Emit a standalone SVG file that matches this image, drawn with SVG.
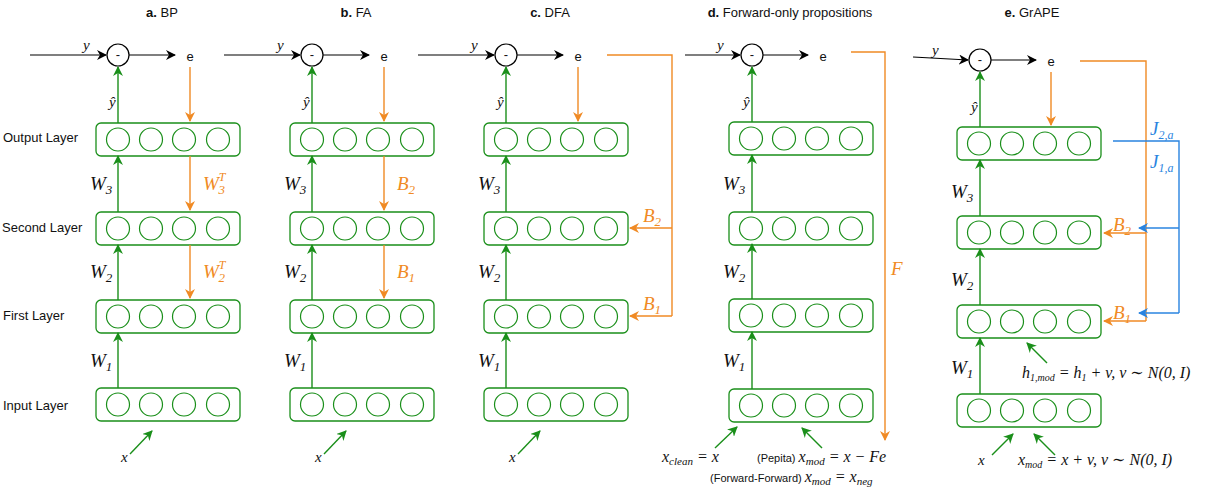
<svg xmlns="http://www.w3.org/2000/svg" width="1211" height="491" viewBox="0 0 1211 491">
<style>
.box{fill:#fff;stroke:#1a8f1a;stroke-width:1.3}
.n{fill:none;stroke:#1a8f1a;stroke-width:1.2}
.g{stroke:#1a8f1a;stroke-width:1.4;fill:none}
.o{stroke:#f08a24;stroke-width:1.4;fill:none}
.b{stroke:#2a84e0;stroke-width:1.4;fill:none}
.k{stroke:#000;stroke-width:1.2;fill:none}
.t{font-family:"Liberation Sans",Arial,sans-serif;font-size:13px;fill:#111}
.ttl{font-family:"Liberation Sans",Arial,sans-serif;font-size:13px;fill:#111;text-anchor:middle}
.m{font-family:"Liberation Serif","DejaVu Serif",serif;font-style:italic;font-size:19px;fill:#111}
.mf{font-family:"Liberation Serif","DejaVu Serif",serif;font-style:italic;font-size:16px;fill:#111}
.mo{font-family:"Liberation Serif","DejaVu Serif",serif;font-style:italic;font-size:19px;fill:#f08a24}
.mb{font-family:"Liberation Serif","DejaVu Serif",serif;font-style:italic;font-size:19px;fill:#2a84e0}
.ms{font-family:"Liberation Serif","DejaVu Serif",serif;font-style:italic;font-size:15px;fill:#111}
.sm{font-family:"Liberation Sans",Arial,sans-serif;font-size:11px;font-style:normal;fill:#111}
</style>
<defs>
<marker id="ag" viewBox="0 0 10 10" refX="9" refY="5" markerWidth="10" markerHeight="10" markerUnits="userSpaceOnUse" orient="auto"><path d="M0,0L10,5L0,10L3,5z" fill="#1a8f1a"/></marker>
<marker id="ao" viewBox="0 0 10 10" refX="9" refY="5" markerWidth="10" markerHeight="10" markerUnits="userSpaceOnUse" orient="auto"><path d="M0,0L10,5L0,10L3,5z" fill="#f08a24"/></marker>
<marker id="ab" viewBox="0 0 10 10" refX="9" refY="5" markerWidth="10" markerHeight="10" markerUnits="userSpaceOnUse" orient="auto"><path d="M0,0L10,5L0,10L3,5z" fill="#2a84e0"/></marker>
<marker id="ak" viewBox="0 0 10 10" refX="9" refY="5" markerWidth="10" markerHeight="10" markerUnits="userSpaceOnUse" orient="auto"><path d="M0,0L10,5L0,10L3,5z" fill="#000"/></marker>
<g id="layer"><rect class="box" x="0" y="0" width="144" height="33" rx="5"/><circle class="n" cx="22" cy="16.5" r="11.5"/><circle class="n" cx="55" cy="16.5" r="11.5"/><circle class="n" cx="88" cy="16.5" r="11.5"/><circle class="n" cx="122" cy="16.5" r="11.5"/></g>
</defs>
<g id="labels">
<text class="t" x="3" y="142">Output Layer</text>
<text class="t" x="2" y="232">Second Layer</text>
<text class="t" x="3" y="320">First Layer</text>
<text class="t" x="3" y="410">Input Layer</text>
<text class="ttl" x="162" y="17"><tspan font-weight="bold">a.</tspan> BP</text>
<text class="ttl" x="356" y="17"><tspan font-weight="bold">b.</tspan> FA</text>
<text class="ttl" x="550" y="17"><tspan font-weight="bold">c.</tspan> DFA</text>
<text class="ttl" x="790" y="17"><tspan font-weight="bold">d.</tspan> Forward-only propositions</text>
<text class="ttl" x="1032" y="17"><tspan font-weight="bold">e.</tspan> GrAPE</text>
</g>
<g id="panel-a" transform="translate(96,0)">
<g id="a-out"><use href="#layer" y="123"/></g><g id="a-sec"><use href="#layer" y="212"/></g><g id="a-first"><use href="#layer" y="300"/></g><g id="a-in"><use href="#layer" y="388"/></g>
<g id="a-minus"><circle cx="22" cy="55" r="11" fill="#fff" stroke="#000" stroke-width="1.2"/><text class="t" x="22" y="59" text-anchor="middle">-</text></g>
<text class="t" x="94" y="61" text-anchor="middle">e</text>
<text class="ms" x="-13" y="50" font-size="17">y</text>
<text class="ms" x="13" y="107" font-size="11">ŷ</text>
<text class="m" x="-6" y="190">W<tspan font-size="13" dy="4">3</tspan></text>
<text class="m" x="-6" y="278">W<tspan font-size="13" dy="4">2</tspan></text>
<text class="m" x="-6" y="367">W<tspan font-size="13" dy="4">1</tspan></text>
<text class="mo" x="107" y="190">W<tspan font-size="12" dy="-9">T</tspan><tspan font-size="13" dx="-7" dy="13">3</tspan></text>
<text class="mo" x="107" y="278">W<tspan font-size="12" dy="-9">T</tspan><tspan font-size="13" dx="-7" dy="13">2</tspan></text>
<text class="ms" x="25" y="462">x</text>
</g>
<g id="panel-b" transform="translate(290,0)">
<g id="b-out"><use href="#layer" y="123"/></g><g id="b-sec"><use href="#layer" y="212"/></g><g id="b-first"><use href="#layer" y="300"/></g><g id="b-in"><use href="#layer" y="388"/></g>
<g id="b-minus"><circle cx="22" cy="55" r="11" fill="#fff" stroke="#000" stroke-width="1.2"/><text class="t" x="22" y="59" text-anchor="middle">-</text></g>
<text class="t" x="94" y="61" text-anchor="middle">e</text>
<text class="ms" x="-13" y="50" font-size="17">y</text>
<text class="ms" x="13" y="107" font-size="11">ŷ</text>
<text class="m" x="-6" y="190">W<tspan font-size="13" dy="4">3</tspan></text>
<text class="m" x="-6" y="278">W<tspan font-size="13" dy="4">2</tspan></text>
<text class="m" x="-6" y="367">W<tspan font-size="13" dy="4">1</tspan></text>
<text class="mo" x="107" y="190">B<tspan font-size="13" dy="4">2</tspan></text>
<text class="mo" x="107" y="278">B<tspan font-size="13" dy="4">1</tspan></text>
<text class="ms" x="25" y="462">x</text>
</g>
<g id="panel-c" transform="translate(484,0)">
<g id="c-out"><use href="#layer" y="123"/></g><g id="c-sec"><use href="#layer" y="212"/></g><g id="c-first"><use href="#layer" y="300"/></g><g id="c-in"><use href="#layer" y="388"/></g>
<g id="c-minus"><circle cx="22" cy="55" r="11" fill="#fff" stroke="#000" stroke-width="1.2"/><text class="t" x="22" y="59" text-anchor="middle">-</text></g>
<text class="t" x="94" y="61" text-anchor="middle">e</text>
<text class="ms" x="-13" y="50" font-size="17">y</text>
<text class="ms" x="13" y="107" font-size="11">ŷ</text>
<text class="m" x="-6" y="190">W<tspan font-size="13" dy="4">3</tspan></text>
<text class="m" x="-6" y="278">W<tspan font-size="13" dy="4">2</tspan></text>
<text class="m" x="-6" y="367">W<tspan font-size="13" dy="4">1</tspan></text>
<text class="mo" x="159" y="222">B<tspan font-size="13" dy="4">2</tspan></text>
<text class="mo" x="159" y="310">B<tspan font-size="13" dy="4">1</tspan></text>
<text class="ms" x="25" y="462">x</text>
</g>
<g id="panel-d" transform="translate(729,0)">
<g id="d-out"><use href="#layer" y="122"/></g><g id="d-sec"><use href="#layer" y="212"/></g><g id="d-first"><use href="#layer" y="299"/></g><g id="d-in"><use href="#layer" y="389"/></g>
<g id="d-minus"><circle cx="23" cy="55" r="11" fill="#fff" stroke="#000" stroke-width="1.2"/><text class="t" x="23" y="59" text-anchor="middle">-</text></g>
<text class="t" x="94" y="61" text-anchor="middle">e</text>
<text class="ms" x="-12" y="50" font-size="17">y</text>
<text class="ms" x="14" y="107" font-size="11">ŷ</text>
<text class="m" x="-6" y="190">W<tspan font-size="13" dy="4">3</tspan></text>
<text class="m" x="-6" y="278">W<tspan font-size="13" dy="4">2</tspan></text>
<text class="m" x="-6" y="367">W<tspan font-size="13" dy="4">1</tspan></text>
<text class="mo" x="162" y="275">F</text>
<text class="mf" x="-67" y="462">x<tspan font-size="11" dy="3">clean</tspan><tspan dy="-3"> = x</tspan></text>
<text class="mf" x="28" y="462"><tspan class="sm">(Pepita) </tspan>x<tspan font-size="11" dy="3">mod</tspan><tspan dy="-3"> = x − Fe</tspan></text>
<text class="mf" x="-19" y="482"><tspan class="sm">(Forward-Forward) </tspan>x<tspan font-size="11" dy="3">mod</tspan><tspan dy="-3"> = x</tspan><tspan font-size="11" dy="3">neg</tspan></text>
</g>
<g id="panel-e" transform="translate(957,4)">
<g id="e-out"><use href="#layer" y="123"/></g><g id="e-sec"><use href="#layer" y="212"/></g><g id="e-first"><use href="#layer" y="301"/></g><g id="e-in"><use href="#layer" y="390"/></g>
<g id="e-minus"><circle cx="23" cy="56" r="11" fill="#fff" stroke="#000" stroke-width="1.2"/><text class="t" x="23" y="60" text-anchor="middle">-</text></g>
<text class="t" x="94" y="62" text-anchor="middle">e</text>
<text class="ms" x="-25" y="51" font-size="17">y</text>
<text class="ms" x="14" y="108" font-size="11">ŷ</text>
<text class="m" x="-6" y="194">W<tspan font-size="13" dy="4">3</tspan></text>
<text class="m" x="-6" y="282">W<tspan font-size="13" dy="4">2</tspan></text>
<text class="m" x="-6" y="370">W<tspan font-size="13" dy="4">1</tspan></text>
<text class="mo" x="156" y="227">B<tspan font-size="13" dy="4">2</tspan></text>
<text class="mo" x="156" y="315">B<tspan font-size="13" dy="4">1</tspan></text>
<text class="mb" x="193" y="131">J<tspan font-size="12" dy="4">2,a</tspan></text>
<text class="mb" x="193" y="164">J<tspan font-size="12" dy="4">1,a</tspan></text>
<text class="mf" x="65" y="374">h<tspan font-size="10" dy="3">1,mod</tspan><tspan dy="-3"> = h</tspan><tspan font-size="10" dy="3">1</tspan><tspan dy="-3"> + v, v ∼ N(0, I)</tspan></text>
<text class="ms" x="21" y="461">x</text>
<text class="mf" x="61" y="461">x<tspan font-size="10" dy="3">mod</tspan><tspan dy="-3"> = x + v, v ∼ N(0, I)</tspan></text>
</g>
<g id="connectors">
<g transform="translate(96,0)">
<path class="k" d="M-66,55H10" marker-end="url(#ak)"/><path class="k" d="M33,55H79" marker-end="url(#ak)"/>
<path class="g" d="M22,123V67" marker-end="url(#ag)"/><path class="g" d="M22,212V156" marker-end="url(#ag)"/><path class="g" d="M22,300V245" marker-end="url(#ag)"/><path class="g" d="M22,388V333" marker-end="url(#ag)"/><path class="g" d="M34,454L56,431" marker-end="url(#ag)"/>
<path class="o" d="M94,67V121" marker-end="url(#ao)"/><path class="o" d="M94,156V210" marker-end="url(#ao)"/><path class="o" d="M94,245V298" marker-end="url(#ao)"/>
</g>
<g transform="translate(290,0)">
<path class="k" d="M-66,55H10" marker-end="url(#ak)"/><path class="k" d="M33,55H79" marker-end="url(#ak)"/>
<path class="g" d="M22,123V67" marker-end="url(#ag)"/><path class="g" d="M22,212V156" marker-end="url(#ag)"/><path class="g" d="M22,300V245" marker-end="url(#ag)"/><path class="g" d="M22,388V333" marker-end="url(#ag)"/><path class="g" d="M34,454L56,431" marker-end="url(#ag)"/>
<path class="o" d="M94,67V121" marker-end="url(#ao)"/><path class="o" d="M94,156V210" marker-end="url(#ao)"/><path class="o" d="M94,245V298" marker-end="url(#ao)"/>
</g>
<g transform="translate(484,0)">
<path class="k" d="M-66,55H10" marker-end="url(#ak)"/><path class="k" d="M33,55H79" marker-end="url(#ak)"/>
<path class="g" d="M22,123V67" marker-end="url(#ag)"/><path class="g" d="M22,212V156" marker-end="url(#ag)"/><path class="g" d="M22,300V245" marker-end="url(#ag)"/><path class="g" d="M22,388V333" marker-end="url(#ag)"/><path class="g" d="M34,454L56,431" marker-end="url(#ag)"/>
<path class="o" d="M94,67V121" marker-end="url(#ao)"/>
<path class="o" d="M123,55H188V316"/>
<path class="o" d="M188,228H146" marker-end="url(#ao)"/><path class="o" d="M188,316H146" marker-end="url(#ao)"/>
</g>
<g transform="translate(729,0)">
<path class="k" d="M-44,55H11" marker-end="url(#ak)"/><path class="k" d="M34,55H79" marker-end="url(#ak)"/>
<path class="g" d="M23,122V67" marker-end="url(#ag)"/><path class="g" d="M23,212V155" marker-end="url(#ag)"/><path class="g" d="M23,299V244" marker-end="url(#ag)"/><path class="g" d="M23,389V332" marker-end="url(#ag)"/><path class="g" d="M-14,448L8,427" marker-end="url(#ag)"/><path class="g" d="M93,448L73,428" marker-end="url(#ag)"/>
<path class="o" d="M122,52H156V440" marker-end="url(#ao)"/>
</g>
<g transform="translate(957,4)">
<path class="k" d="M-44,53L11,56" marker-end="url(#ak)"/><path class="k" d="M34,56H79" marker-end="url(#ak)"/>
<path class="g" d="M23,123V68" marker-end="url(#ag)"/><path class="g" d="M23,212V156" marker-end="url(#ag)"/><path class="g" d="M23,301V245" marker-end="url(#ag)"/><path class="g" d="M23,390V334" marker-end="url(#ag)"/><path class="g" d="M35,451L56,430" marker-end="url(#ag)"/><path class="g" d="M98,451L77,430" marker-end="url(#ag)"/><path class="g" d="M90,359L70,339" marker-end="url(#ag)"/>
<path class="o" d="M94,68V121" marker-end="url(#ao)"/>
<path class="o" d="M123,57H189V317"/>
<path class="o" d="M189,229H147" marker-end="url(#ao)"/><path class="o" d="M189,317H147" marker-end="url(#ao)"/>
<path class="b" d="M156,137H222V309"/>
<path class="b" d="M222,224H182" marker-end="url(#ab)"/><path class="b" d="M222,309H182" marker-end="url(#ab)"/>
</g>
</g>
</svg>
